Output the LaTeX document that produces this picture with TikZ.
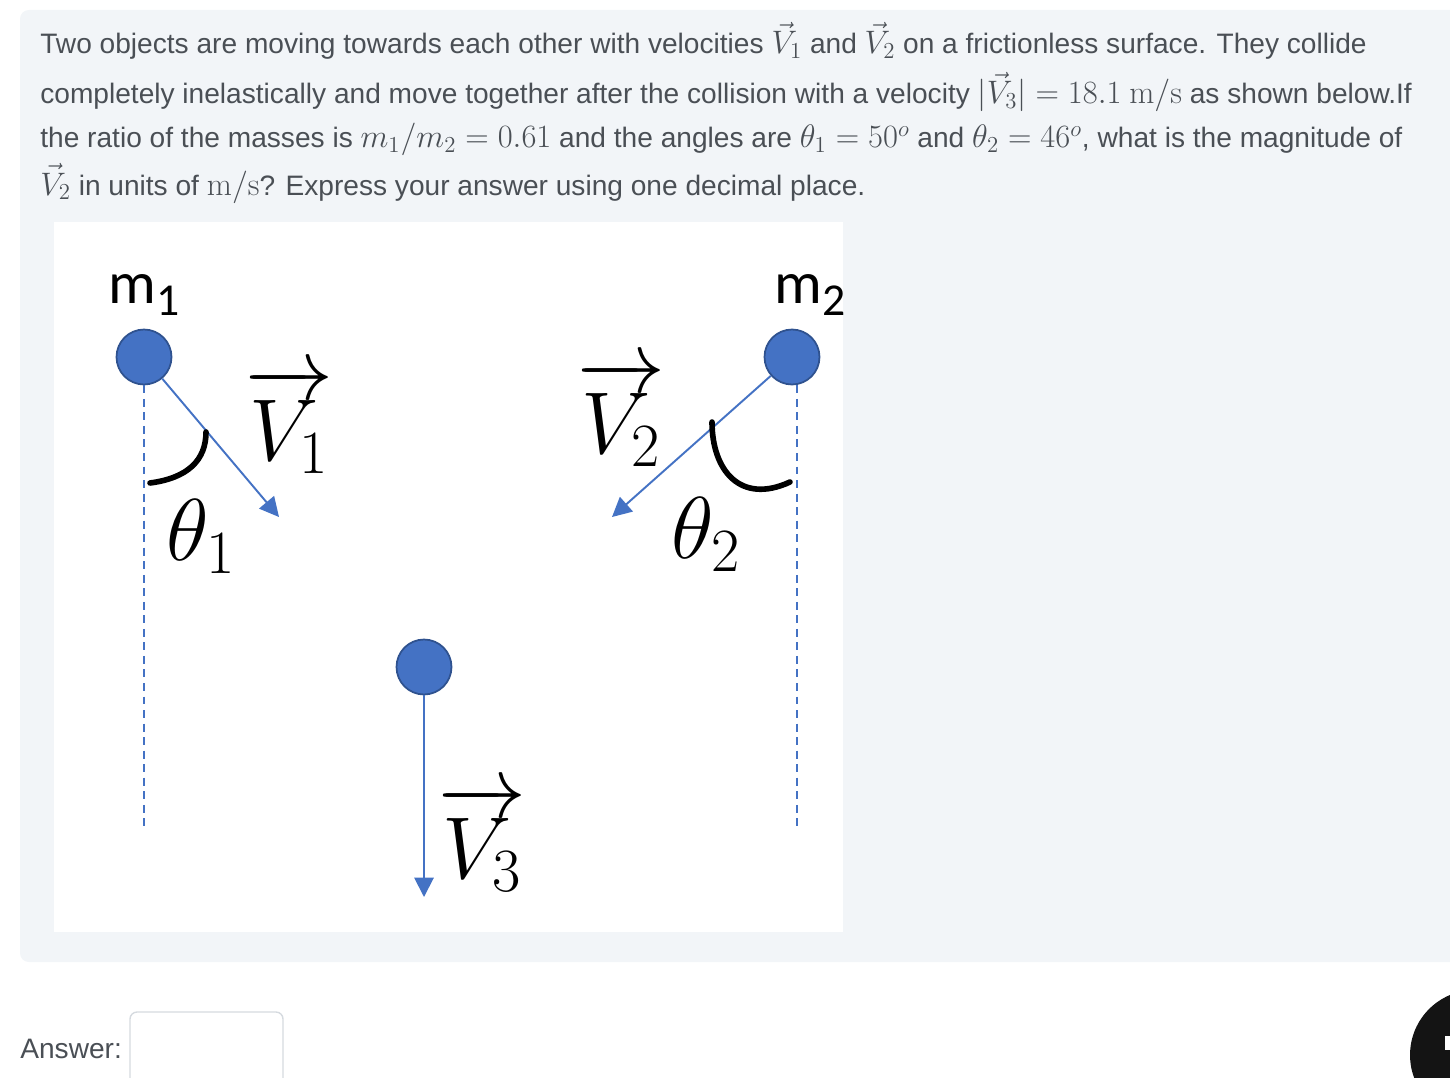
\RequirePackage{fix-cm}
\documentclass[tikz,border=0pt]{standalone}
\usepackage{amsmath}
\usepackage[no-math]{fontspec}
\setmainfont{Liberation Sans}
\newfontfamily\calibrifont{Carlito}
\usetikzlibrary{arrows.meta}

% math in the question text is set larger than the words round it
\DeclareMathSizes{16}{18.5}{13}{10}

\definecolor{panelbg}{HTML}{F2F5F8}
\definecolor{textgray}{HTML}{4A4F55}
\definecolor{ballblue}{HTML}{4472C4}
\definecolor{ballrim}{HTML}{2F528F}
\definecolor{boxline}{HTML}{D5DADF}

% lowered small index for the mass labels
\newcommand{\masssub}[1]{\raisebox{-7pt}{\fontsize{26}{28}\selectfont #1}}

\begin{document}
\begin{tikzpicture}[x=0.02cm, y=-0.02cm,
		ball/.style={circle, fill=ballblue, draw=ballrim, line width=1pt, inner sep=0pt, minimum size=1.1cm},
		velocity/.style={draw=ballblue, line width=1.1pt, -{Triangle[length=11pt, width=11pt]}},
		vertical/.style={draw=ballblue, line width=0.9pt, dash pattern=on 4.5pt off 3.2pt},
		anglemark/.style={line width=3.2pt, line cap=round},
		question/.style={anchor=base west, inner sep=0pt, text=textgray, font=\fontsize{16}{19}\selectfont},
		masslabel/.style={anchor=base, inner sep=0pt, font=\calibrifont\fontsize{34}{36}\selectfont},
		mathlabel/.style={anchor=base west, inner sep=0pt, font=\fontsize{50}{54}\selectfont}]
		\def\dashEnd{830} % lower end of the dashed verticals
		
		\clip (0,0) rectangle (1450,1078);
		
		% Question panel and the white figure area
		\fill[panelbg, rounded corners=5pt] (20,10) rectangle (1470,962);
		\fill[white] (54,222) rectangle (843,932);
		
		% Question text, one line per node
		\node[question] (q1) at (40,54) {Two objects are moving towards each other with velocities $\vec{V}_1$ and $\vec{V}_2$ on a frictionless surface. They collide};
		\node[question] (q2) at (40,104) {completely inelastically and move together after the collision with a velocity $|\vec{V}_3| = 18.1\ \mathrm{m/s}$ as shown below.If};
		\node[question] (q3) at (40,148) {the ratio of the masses is $m_1/m_2 = 0.61$ and the angles are $\theta_1 = 50^o$ and $\theta_2 = 46^o$, what is the magnitude of};
		\node[question] (q4) at (40,195) {$\vec{V}_2$ in units of $\mathrm{m/s}$? Express your answer using one decimal place.};
		
		% The three balls
		\foreach \name/\x/\y in {m1/144/357, m2/792/357, m3/424/667} {
			\node[ball] (\name) at (\x,\y) {};
		}
		
		% Mass labels
		\node[masslabel] (m1lab) at (144,303) {m\masssub{1}};
		\node[masslabel] (m2lab) at (810,303) {m\masssub{2}};
		
		% Dashed verticals
		\coordinate (g1end) at (144,\dashEnd);
		\coordinate (g2end) at (797,\dashEnd);
		\draw[vertical] (m1.south) -- (g1end);
		\draw[vertical] (m2.south -| g2end) -- (g2end);
		
		% Velocity arrows
		\coordinate (v1end) at (279,517);
		\coordinate (v2end) at (612,517);
		\coordinate (v3end) at (424,897);
		\draw[velocity] (m1) -- (v1end);
		\draw[velocity] (m2) -- (v2end);
		\draw[velocity] (m3) -- (v3end);
		
		% Angle marks
		\draw[anglemark] (150,483) .. controls (188,478) and (206,460) .. (206,432);
		\draw[anglemark] (712,422) .. controls (712,470) and (740,505) .. (790,482);
		
		% Vector and angle labels
		\node[mathlabel] (v1lab) at (245,460) {$\overrightarrow{V_1}$};
		\node[mathlabel] (v2lab) at (577,453) {$\overrightarrow{V_2}$};
		\node[mathlabel] (v3lab) at (438,878) {$\overrightarrow{V_3}$};
		\node[mathlabel] (t1lab) at (166,560) {$\theta_1$};
		\node[mathlabel] (t2lab) at (671,558) {$\theta_2$};
		
		% Answer field
		\node[question] (anslab) at (20,1058) {Answer:};
		\draw[boxline, line width=0.8pt, rounded corners=4pt] (130,1012) rectangle (283,1100);
		
		% Round button in the corner
		\fill[black!92] (1475,1055) circle[radius=1.3cm];
		\fill[white] (1445,1036) rectangle (1450,1050);
	\end{tikzpicture}
\end{document}
